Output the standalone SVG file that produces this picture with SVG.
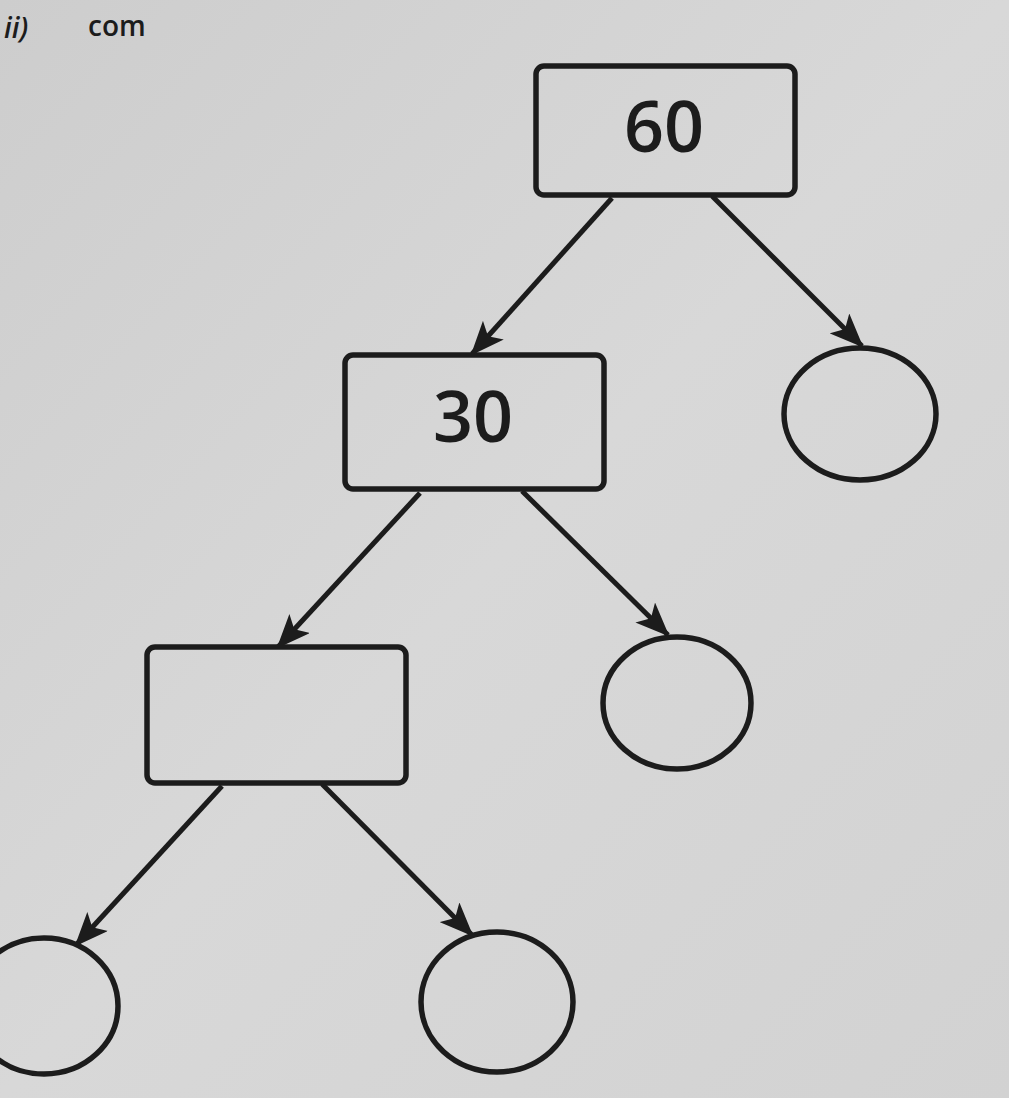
<svg xmlns="http://www.w3.org/2000/svg" width="1009" height="1098" viewBox="0 0 1009 1098">
<defs>
<linearGradient id="bg" x1="0" y1="0" x2="1" y2="1">
<stop offset="0" stop-color="#cdcdcd"/>
<stop offset="0.5" stop-color="#d8d8d8"/>
<stop offset="1" stop-color="#d2d2d2"/>
</linearGradient>
<marker id="ah" viewBox="0 0 34 28" refX="32" refY="14" markerWidth="34" markerHeight="28" markerUnits="userSpaceOnUse" orient="auto">
<path d="M0,0 L34,14 L0,28 L8,14 Z" fill="#1c1c1c"/>
</marker>
<style>
.box{fill:none;stroke:#1c1c1c;stroke-width:5.5}
.leaf{fill:none;stroke:#1c1c1c;stroke-width:5.5}
.edge{stroke:#1c1c1c;stroke-width:5;fill:none;marker-end:url(#ah)}
.lbl{font-family:"Open Sans","DejaVu Sans",sans-serif;font-weight:600;font-size:70px;fill:#1c1c1c;text-anchor:middle}
.hdr{font-family:"Open Sans","DejaVu Sans",sans-serif;font-weight:600;font-size:28px;fill:#1c1c1c}
</style>
</defs>
<rect width="1009" height="1098" fill="url(#bg)"/>
<text class="hdr" x="4" y="38" font-style="italic">ii)</text>
<text class="hdr" x="88" y="36">com</text>
<g id="connectors">
<line class="edge" x1="612" y1="198" x2="472" y2="354"/>
<line class="edge" x1="712" y1="196" x2="862" y2="346"/>
<line class="edge" x1="420" y1="493" x2="278" y2="647"/>
<line class="edge" x1="522" y1="491" x2="668" y2="635"/>
<line class="edge" x1="222" y1="786" x2="76" y2="945"/>
<line class="edge" x1="322" y1="784" x2="472" y2="935"/>
</g>
<g id="n60">
<rect class="box" x="536" y="66" width="259" height="129" rx="8"/>
<text class="lbl" x="664" y="152">60</text>
</g>
<g id="n30">
<rect class="box" x="345" y="355" width="259" height="134" rx="8"/>
<text class="lbl" x="473" y="442">30</text>
</g>
<g id="nEmpty">
<rect class="box" x="147" y="647" width="259" height="136" rx="8"/>
</g>
<g id="leaf1"><ellipse class="leaf" cx="860" cy="414" rx="76" ry="66"/></g>
<g id="leaf2"><ellipse class="leaf" cx="677" cy="703" rx="74" ry="66"/></g>
<g id="leaf3"><ellipse class="leaf" cx="44" cy="1006" rx="74" ry="68"/></g>
<g id="leaf4"><ellipse class="leaf" cx="497" cy="1002" rx="76" ry="70"/></g>
</svg>
